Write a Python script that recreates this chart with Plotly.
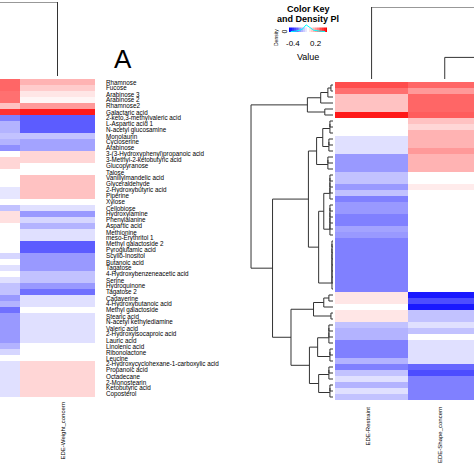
import plotly.graph_objects as go

W = H = 474

# row names (left panel labels, top to bottom)
metabolites = [
    "Rhamnose", "Fucose", "Arabinose 3", "Arabinose 2", "Rhamnose2", "Galactaric acid",
    "2-keto,3-methylvaleric acid", "L-Aspartic acid 1", "N-acetyl glucosamine", "Monolaurin",
    "Cycloserine", "Arabinose", "3-(3-Hydroxyphenyl)propanoic acid", "3-Methyl-2-ketobutyric acid",
    "Glucopyranose", "Talose", "Vanillylmandelic acid", "Glyceraldehyde", "2-Hydroxybutyric acid",
    "Piperine", "Xylose", "Cellobiose", "Hydroxylamine", "Phenylalanine", "Aspartic acid",
    "Methionine", "meso-Erythritol 1", "Methyl galactoside 2", "Pyroglutamic acid",
    "Scyllo-Inositol", "Butanoic acid", "Tagatose", "4-Hydroxybenzeneacetic acid", "Serine",
    "Hydroquinone", "Tagatose 2", "Cadaverine", "4-Hydroxybutanoic acid", "Methyl galactoside",
    "Stearic acid", "N-acetyl kethylediamine", "Valeric acid", "2-Hydroxyisocaproic acid",
    "Lauric acid", "Linolenic acid", "Ribonolactone", "Leucine",
    "2-Hydroxycyclohexane-1-carboxylic acid", "Propanoic acid", "Octadecane", "2-Monostearin",
    "Ketobutyric acid", "Coposterol",
]

# left panel: cut-off column and EDE-Weight_concern
left_cut = [0.3, 0.3, 0.28, 0.28, 0.12, 0.4, -0.25, -0.15, -0.15, -0.12, -0.15, -0.22, 0, 0.08,
            0.08, 0, 0, 0, -0.05, -0.05, 0, -0.12, 0.06, 0.06, 0, 0, 0, 0, 0, -0.08, 0, -0.06,
            0, -0.06, -0.12, -0.12, -0.2, -0.15, -0.28, -0.2, -0.2, -0.2, -0.2, -0.2, -0.15,
            -0.08, 0, -0.06, -0.06, -0.06, -0.06, -0.06, -0.06]
weight_concern = [0.15, 0.1, 0.05, 0.02, 0.2, 0.45, -0.32, -0.32, -0.32, -0.12, -0.18, -0.18,
                  0.08, 0.08, 0, 0, 0.12, 0.12, 0.12, 0.12, 0, -0.06, -0.2, -0.08, -0.15, -0.06,
                  -0.06, -0.32, -0.32, -0.2, -0.2, -0.2, -0.12, -0.12, -0.2, -0.28, -0.06, -0.06,
                  0, -0.06, -0.06, -0.06, -0.06, -0.06, 0, 0, 0, 0.08, 0.08, 0.08, 0.08, 0.08, 0.08]

# right panel: EDE-Restraint and EDE-Shape_concern
restraint = [0.35, 0.28, 0.12, 0.12, 0.12, 0.45, 0, 0, 0, -0.06, -0.06, -0.06, -0.2, -0.2, -0.2,
             -0.12, -0.12, -0.2, -0.12, -0.25, -0.2, -0.2, -0.25, -0.25, -0.18, -0.2, -0.25,
             -0.25, -0.25, -0.25, -0.25, -0.25, -0.25, -0.25, -0.25, 0.05, 0.05, 0, 0.05, 0.05,
             -0.12, -0.15, -0.15, -0.25, -0.25, -0.25, -0.15, -0.25, -0.12, -0.06, -0.15, -0.06,
             -0.12]
shape_concern = [0.3, 0.2, 0.3, 0.3, 0.3, 0.32, 0.12, 0.08, 0.15, 0.15, 0.15, 0.2, 0.15, 0.15,
                 0.15, 0, 0, 0.04, 0, 0, 0, 0, 0, 0, 0, 0, 0, 0, 0, 0, 0, 0, 0, 0, 0, -0.45,
                 -0.35, -0.45, -0.12, -0.12, -0.06, -0.12, 0, -0.06, -0.06, -0.06, -0.06, -0.3,
                 -0.35, -0.25, -0.25, -0.25, -0.25]
hidden_col = [0] * 53  # third column, cut off by the crop

key_ticks = [-0.4, 0.2]

colorscale = [[0, "rgb(0,0,255)"], [0.5, "rgb(255,255,255)"], [1, "rgb(255,0,0)"]]


def chain(rows, h):
    # ladder of contiguous leaves at a small height
    node = rows[0]
    for r in rows[1:]:
        node = (h, node, r)
    return node


# row dendrogram of the right panel (height, left, right)
row_tree = (80,
            (25, (12, (5, (2, 0, 1), 2), 3), (8, 4, 5)),
            (59,
             (24,
              (16, (10, chain(range(6, 9), 3), chain(range(9, 12), 4)), chain(range(12, 15), 5)),
              (14, (9, chain(range(15, 20), 3), chain(range(20, 26), 3)), chain(range(26, 35), 1))),
             (41,
              (19, (9, chain(range(35, 37), 4), 37), chain(range(38, 40), 2)),
              (23, (15, chain(range(40, 44), 4), chain(range(44, 47), 3)),
               (14, chain(range(47, 50), 4), chain(range(50, 53), 3))))))


def draw_tree(node, xs, ys):
    if isinstance(node, int):
        return node, 0
    h, a, b = node
    ya, ha = draw_tree(a, xs, ys)
    yb, hb = draw_tree(b, xs, ys)
    xs += [ha, h, h, hb, None]
    ys += [ya, ya, yb, yb, None]
    return (ya + yb) / 2, h


tx, ty = [], []
draw_tree(row_tree, tx, ty)

fig = go.Figure()
line = dict(color="#333", width=1)

# left heatmap
fig.add_trace(go.Heatmap(z=[list(r) for r in zip(left_cut, weight_concern)], x=[0, 1],
                         y=list(range(53)), colorscale=colorscale, zmin=-0.5, zmax=0.5,
                         showscale=False, xaxis="x", yaxis="y", hoverinfo="skip"))
# left column dendrogram (partner column off the crop)
fig.add_trace(go.Scatter(x=[1, 1, -1], y=[0, 10, 10], mode="lines", line=line,
                         xaxis="x2", yaxis="y2", hoverinfo="skip"))
# right heatmap
fig.add_trace(go.Heatmap(z=[list(r) for r in zip(restraint, shape_concern, hidden_col)],
                         x=[0, 1, 2], y=list(range(53)), colorscale=colorscale, zmin=-0.5,
                         zmax=0.5, showscale=False, xaxis="x3", yaxis="y3", hoverinfo="skip"))
# right column dendrogram
fig.add_trace(go.Scatter(x=[0, 0, 1.5, 1.5, None, 1, 1, 2, 2], y=[0, 10, 10, 3, None, 0, 3, 3, 0],
                         mode="lines", line=line, xaxis="x4", yaxis="y4", hoverinfo="skip"))
# right row dendrogram
fig.add_trace(go.Scatter(x=tx, y=ty, mode="lines", line=line, xaxis="x5", yaxis="y5",
                         hoverinfo="skip"))
# color key
fig.add_trace(go.Heatmap(z=[[i / 20 - 0.5 for i in range(21)]], x=[i / 20 - 0.5 for i in range(21)],
                         colorscale=colorscale, zmin=-0.5, zmax=0.5, showscale=False,
                         xaxis="x6", yaxis="y6", hoverinfo="skip"))
fig.add_trace(go.Scatter(x=[-0.45, -0.3, -0.15, -0.05, 0.05, 0.15, 0.3, 0.45],
                         y=[0.05, 0.1, 0.3, 0.8, 0.5, 0.2, 0.1, 0.05], mode="lines",
                         line=dict(color="cyan", width=1), xaxis="x6", yaxis="y6",
                         hoverinfo="skip"))


def py(p):
    return 1 - p / H


hide = dict(visible=False, showgrid=False, zeroline=False)
fig.update_layout(
    width=W, height=H, margin=dict(l=0, r=0, t=0, b=0),
    plot_bgcolor="white", paper_bgcolor="white", showlegend=False,
    font=dict(family="Liberation Sans, Arial", color="#000000"),
    xaxis=dict(domain=[0, 95 / W], range=[0.233, 1.5], **hide),
    yaxis=dict(domain=[py(397), py(79)], range=[52.5, -0.5], **hide),
    xaxis2=dict(domain=[0, 95 / W], range=[0.233, 1.5], **hide),
    yaxis2=dict(domain=[py(76), py(2)], range=[0, 10], anchor="x2", **hide),
    xaxis3=dict(domain=[335 / W, 1], range=[-0.5, 1.4], **hide),
    yaxis3=dict(domain=[py(400), py(82)], range=[52.5, -0.5], anchor="x3", **hide),
    xaxis4=dict(domain=[335 / W, 1], range=[-0.5, 1.4], anchor="y4", **hide),
    yaxis4=dict(domain=[py(79), py(7)], range=[0, 10], anchor="x4", **hide),
    xaxis5=dict(domain=[250 / W, 333 / W], range=[81, 0], anchor="y5", **hide),
    yaxis5=dict(domain=[py(400), py(82)], range=[52.5, -0.5], anchor="x5", **hide),
    xaxis6=dict(domain=[289 / W, 327 / W], range=[-0.5, 0.5], anchor="y6", **hide),
    yaxis6=dict(domain=[py(32), py(23)], range=[0, 1], anchor="x6", **hide),
)

black = "#000000"
ann = []
for i, name in enumerate(metabolites):
    ann.append(dict(x=104 / W, y=py(79 + 6 * i + 3), text=name, xanchor="left",
                    yanchor="middle", font=dict(size=6.3, color=black)))
ann += [
    dict(x=112 / W, y=py(42), text="A", font=dict(size=26, color=black), xanchor="left",
         yanchor="top"),
    dict(x=57.5 / W, y=py(400), text="EDE-Weight_concern", textangle=-90,
         font=dict(size=6, color=black), yanchor="top"),
    dict(x=372 / W, y=py(405), text="EDE-Restraint", textangle=-90,
         font=dict(size=6, color=black), yanchor="top"),
    dict(x=445 / W, y=py(405), text="EDE-Shape_concern", textangle=-90,
         font=dict(size=6, color=black), yanchor="top"),
    dict(x=308 / W, y=py(2), text="<b>Color Key</b>", font=dict(size=9, color=black),
         yanchor="top"),
    dict(x=308 / W, y=py(12), text="<b>and Density Pl</b>", font=dict(size=9, color=black),
         yanchor="top"),
    dict(x=308 / W, y=py(50), text="Value", font=dict(size=9, color=black), yanchor="top"),
    dict(x=276 / W, y=py(27.5), text="Density", textangle=-90, font=dict(size=5, color=black)),
    dict(x=284 / W, y=py(27.5), text="0", textangle=-90, font=dict(size=7, color=black)),
]
for t in key_ticks:
    ann.append(dict(x=(289 + (t + 0.5) * 38) / W, y=py(37), text=f"{t:g}",
                    font=dict(size=8, color=black), yanchor="top"))
for a in ann:
    a["xref"] = "paper"
    a["yref"] = "paper"
    a["showarrow"] = False
fig.update_layout(annotations=ann)

# drop the default page margin so the figure sits at the window's corner
fig.write_html("out.html", config={"displayModeBar": False},
               post_script="document.body.style.margin='0';")
